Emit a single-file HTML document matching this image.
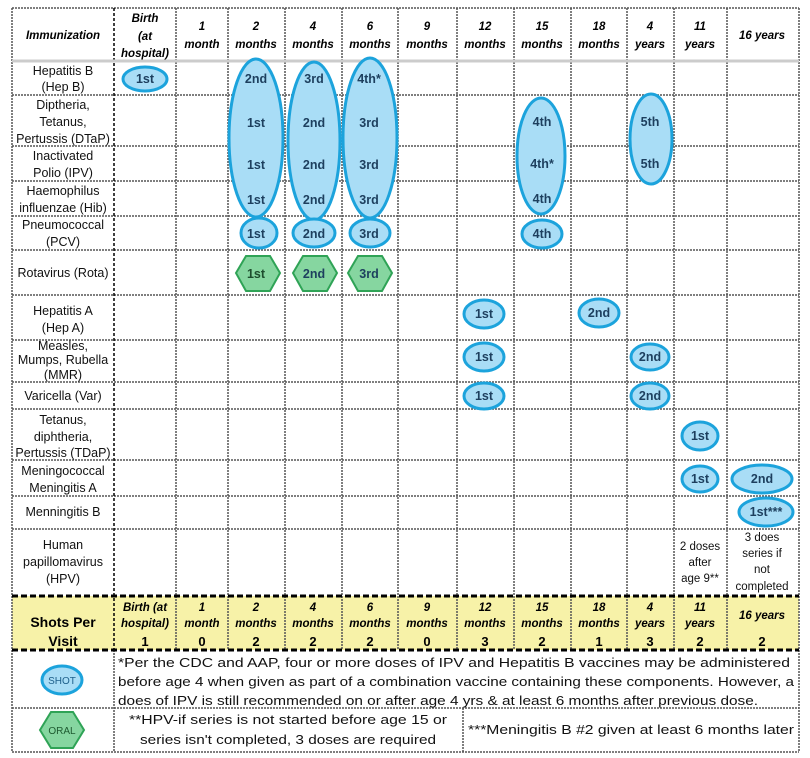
<!DOCTYPE html>
<html><head><meta charset="utf-8"><style>
html,body{margin:0;padding:0;background:#fff;}
svg{display:block;font-family:"Liberation Sans",sans-serif;}
.h{font-style:italic;font-weight:bold;font-size:11.5px;fill:#000;text-anchor:middle;}
.l{font-size:12.5px;fill:#111;text-anchor:middle;}
.d{font-weight:bold;font-size:12.5px;fill:#1d3f5e;text-anchor:middle;}
.e{fill:#a9ddf6;stroke:#1ca3dc;stroke-width:3;}
.x{fill:#86d6a0;stroke:#2fa356;stroke-width:2;}
.g{stroke:#555;stroke-width:1.5;stroke-dasharray:2 1;fill:none;}
.f{font-size:12.5px;fill:#111;}
</style></head><body>
<svg width="810" height="758" viewBox="0 0 810 758">
<rect x="12" y="596" width="787" height="54" fill="#f7f2a8"/>
<g class="g">
<line x1="12" y1="8" x2="799" y2="8"/>
<line x1="12" y1="95" x2="799" y2="95"/>
<line x1="12" y1="146" x2="799" y2="146"/>
<line x1="12" y1="181" x2="799" y2="181"/>
<line x1="12" y1="216" x2="799" y2="216"/>
<line x1="12" y1="250" x2="799" y2="250"/>
<line x1="12" y1="295" x2="799" y2="295"/>
<line x1="12" y1="340" x2="799" y2="340"/>
<line x1="12" y1="382" x2="799" y2="382"/>
<line x1="12" y1="409" x2="799" y2="409"/>
<line x1="12" y1="460" x2="799" y2="460"/>
<line x1="12" y1="496" x2="799" y2="496"/>
<line x1="12" y1="529" x2="799" y2="529"/>
<line x1="12" y1="708" x2="799" y2="708"/>
<line x1="12" y1="752" x2="799" y2="752"/>
<line x1="12" y1="8" x2="12" y2="752"/>
<line x1="799" y1="8" x2="799" y2="752"/>
<line x1="114" y1="650" x2="114" y2="752"/>
<line x1="463" y1="708" x2="463" y2="752"/>
<line x1="176" y1="8" x2="176" y2="596"/>
<line x1="228" y1="8" x2="228" y2="596"/>
<line x1="285" y1="8" x2="285" y2="596"/>
<line x1="342" y1="8" x2="342" y2="596"/>
<line x1="398" y1="8" x2="398" y2="596"/>
<line x1="457" y1="8" x2="457" y2="596"/>
<line x1="514" y1="8" x2="514" y2="596"/>
<line x1="571" y1="8" x2="571" y2="596"/>
<line x1="627" y1="8" x2="627" y2="596"/>
<line x1="674" y1="8" x2="674" y2="596"/>
<line x1="727" y1="8" x2="727" y2="596"/>
<line x1="176" y1="596" x2="176" y2="650"/>
<line x1="228" y1="596" x2="228" y2="650"/>
<line x1="285" y1="596" x2="285" y2="650"/>
<line x1="342" y1="596" x2="342" y2="650"/>
<line x1="398" y1="596" x2="398" y2="650"/>
<line x1="457" y1="596" x2="457" y2="650"/>
<line x1="514" y1="596" x2="514" y2="650"/>
<line x1="571" y1="596" x2="571" y2="650"/>
<line x1="627" y1="596" x2="627" y2="650"/>
<line x1="674" y1="596" x2="674" y2="650"/>
<line x1="727" y1="596" x2="727" y2="650"/>
</g>
<line x1="114" y1="8" x2="114" y2="650" stroke="#000" stroke-width="1.5" stroke-dasharray="3 2"/>
<line x1="12" y1="61" x2="799" y2="61" stroke="#ccc" stroke-width="3"/>
<line x1="12" y1="596" x2="799" y2="596" stroke="#000" stroke-width="3" stroke-dasharray="6 3"/>
<line x1="12" y1="650" x2="799" y2="650" stroke="#000" stroke-width="3" stroke-dasharray="6 3"/>

<text class="h" x="63" y="39" font-size="12.5">Immunization</text>
<text class="h" x="145" y="22">Birth</text><text class="h" x="145" y="40">(at</text><text class="h" x="145" y="57">hospital)</text>
<g class="h">
<text x="202" y="30">1</text><text x="202" y="48">month</text>
<text x="256" y="30">2</text><text x="256" y="48">months</text>
<text x="313" y="30">4</text><text x="313" y="48">months</text>
<text x="370" y="30">6</text><text x="370" y="48">months</text>
<text x="427" y="30">9</text><text x="427" y="48">months</text>
<text x="485" y="30">12</text><text x="485" y="48">months</text>
<text x="542" y="30">15</text><text x="542" y="48">months</text>
<text x="599" y="30">18</text><text x="599" y="48">months</text>
<text x="650" y="30">4</text><text x="650" y="48">years</text>
<text x="700" y="30">11</text><text x="700" y="48">years</text>
<text x="762" y="39">16 years</text>
</g>

<g class="l">
<text x="63" y="75">Hepatitis B</text><text x="63" y="91">(Hep B)</text>
<text x="63" y="109">Diptheria,</text><text x="63" y="126">Tetanus,</text><text x="63" y="143">Pertussis (DTaP)</text>
<text x="63" y="160">Inactivated</text><text x="63" y="177">Polio (IPV)</text>
<text x="63" y="195">Haemophilus</text><text x="63" y="212">influenzae (Hib)</text>
<text x="63" y="229">Pneumococcal</text><text x="63" y="246">(PCV)</text>
<text x="63" y="277">Rotavirus (Rota)</text>
<text x="63" y="315">Hepatitis A</text><text x="63" y="332">(Hep A)</text>
<text x="63" y="350">Measles,</text><text x="63" y="364">Mumps, Rubella</text><text x="63" y="379">(MMR)</text>
<text x="63" y="400">Varicella (Var)</text>
<text x="63" y="424">Tetanus,</text><text x="63" y="441">diphtheria,</text><text x="63" y="457">Pertussis (TDaP)</text>
<text x="63" y="475">Meningococcal</text><text x="63" y="492">Meningitis A</text>
<text x="63" y="516">Menningitis B</text>
<text x="63" y="549">Human</text><text x="63" y="566">papillomavirus</text><text x="63" y="583">(HPV)</text>
</g>
<g class="l" style="font-size:11.5px">
<text x="700" y="550">2 doses</text><text x="700" y="566">after</text><text x="700" y="582">age 9**</text>
<text x="762" y="541">3 does</text><text x="762" y="557">series if</text><text x="762" y="573">not</text><text x="762" y="590">completed</text>
</g>

<ellipse class="e" cx="145" cy="79" rx="22" ry="12"/>
<ellipse class="e" cx="256" cy="138" rx="27" ry="79"/>
<ellipse class="e" cx="314" cy="141" rx="26" ry="79"/>
<ellipse class="e" cx="370" cy="138" rx="27" ry="80"/>
<ellipse class="e" cx="259" cy="233" rx="18" ry="15"/>
<ellipse class="e" cx="314" cy="233" rx="21" ry="14"/>
<ellipse class="e" cx="370" cy="233" rx="20" ry="14"/>
<ellipse class="e" cx="541" cy="156" rx="24" ry="58"/>
<ellipse class="e" cx="542" cy="234" rx="20" ry="14"/>
<ellipse class="e" cx="651" cy="139" rx="21" ry="45"/>
<ellipse class="e" cx="484" cy="314" rx="20" ry="14"/>
<ellipse class="e" cx="599" cy="313" rx="20" ry="14"/>
<ellipse class="e" cx="484" cy="357" rx="20" ry="14"/>
<ellipse class="e" cx="650" cy="357" rx="19" ry="13"/>
<ellipse class="e" cx="484" cy="396" rx="20" ry="13"/>
<ellipse class="e" cx="650" cy="396" rx="19" ry="13"/>
<ellipse class="e" cx="700" cy="436" rx="18" ry="14"/>
<ellipse class="e" cx="700" cy="479" rx="18" ry="13"/>
<ellipse class="e" cx="762" cy="479" rx="30" ry="14"/>
<ellipse class="e" cx="766" cy="512" rx="27" ry="14"/>
<ellipse class="e" cx="62" cy="680" rx="20" ry="14"/>
<polygon class="x" points="236,273 246,256 270,256 280,273 270,291 246,291"/>
<polygon class="x" points="293,273 303,256 327,256 337,273 327,291 303,291"/>
<polygon class="x" points="348,273 358,256 382,256 392,273 382,291 358,291"/>
<polygon class="x" points="40,730 51,712 73,712 84,730 73,748 51,748"/>

<g class="d">
<text x="145" y="83">1st</text>
<text x="256" y="83">2nd</text><text x="314" y="83">3rd</text><text x="369" y="83">4th*</text>
<text x="256" y="127">1st</text><text x="314" y="127">2nd</text><text x="369" y="127">3rd</text>
<text x="256" y="169">1st</text><text x="314" y="169">2nd</text><text x="369" y="169">3rd</text>
<text x="256" y="204">1st</text><text x="314" y="204">2nd</text><text x="369" y="204">3rd</text>
<text x="256" y="238">1st</text><text x="314" y="238">2nd</text><text x="369" y="238">3rd</text>
<text x="256" y="278" fill="#1e4d2e">1st</text><text x="314" y="278">2nd</text><text x="369" y="278">3rd</text>
</g>
<g class="d" font-size="11">
<text x="542" y="126">4th</text><text x="542" y="168">4th*</text><text x="542" y="203">4th</text><text x="542" y="238">4th</text>
<text x="650" y="126">5th</text><text x="650" y="168">5th</text>
<text x="484" y="318">1st</text><text x="599" y="317">2nd</text>
<text x="484" y="361">1st</text><text x="650" y="361">2nd</text>
<text x="484" y="400">1st</text><text x="650" y="400">2nd</text>
<text x="700" y="440">1st</text>
<text x="700" y="483">1st</text><text x="762" y="483">2nd</text>
<text x="766" y="516">1st***</text>
</g>
<text x="62" y="684" font-size="10" fill="#1d5f8a" text-anchor="middle">SHOT</text>
<text x="62" y="734" font-size="10" fill="#1e5a30" text-anchor="middle">ORAL</text>

<text x="63" y="627" font-weight="bold" font-size="14" text-anchor="middle">Shots Per</text>
<text x="63" y="646" font-weight="bold" font-size="14" text-anchor="middle">Visit</text>
<g class="h" font-size="11">
<text x="145" y="611">Birth (at</text><text x="145" y="627">hospital)</text>
<text x="202" y="611">1</text><text x="202" y="627">month</text>
<text x="256" y="611">2</text><text x="256" y="627">months</text>
<text x="313" y="611">4</text><text x="313" y="627">months</text>
<text x="370" y="611">6</text><text x="370" y="627">months</text>
<text x="427" y="611">9</text><text x="427" y="627">months</text>
<text x="485" y="611">12</text><text x="485" y="627">months</text>
<text x="542" y="611">15</text><text x="542" y="627">months</text>
<text x="599" y="611">18</text><text x="599" y="627">months</text>
<text x="650" y="611">4</text><text x="650" y="627">years</text>
<text x="700" y="611">11</text><text x="700" y="627">years</text>
<text x="762" y="619">16 years</text>
</g>
<g font-weight="bold" font-size="13" text-anchor="middle">
<text x="145" y="646">1</text><text x="202" y="646">0</text><text x="256" y="646">2</text><text x="313" y="646">2</text><text x="370" y="646">2</text><text x="427" y="646">0</text><text x="485" y="646">3</text><text x="542" y="646">2</text><text x="599" y="646">1</text><text x="650" y="646">3</text><text x="700" y="646">2</text><text x="762" y="646">2</text>
</g>

<text class="f" x="118" y="667" textLength="672" lengthAdjust="spacingAndGlyphs">*Per the CDC and AAP, four or more doses of IPV and Hepatitis B vaccines may be administered</text>
<text class="f" x="118" y="686" textLength="676" lengthAdjust="spacingAndGlyphs">before age 4 when given as part of a combination vaccine containing these components. However, a</text>
<text class="f" x="118" y="705" textLength="640" lengthAdjust="spacingAndGlyphs">does of IPV is still recommended on or after age 4 yrs &amp; at least 6 months after previous dose.</text>
<text class="f" x="288" y="724" text-anchor="middle" textLength="318" lengthAdjust="spacingAndGlyphs">**HPV-if series is not started before age 15 or</text>
<text class="f" x="288" y="744" text-anchor="middle" textLength="296" lengthAdjust="spacingAndGlyphs">series isn't completed, 3 doses are required</text>
<text class="f" x="631" y="734" text-anchor="middle" textLength="326" lengthAdjust="spacingAndGlyphs">***Meningitis B #2 given at least 6 months later</text>
</svg>
</body></html>
